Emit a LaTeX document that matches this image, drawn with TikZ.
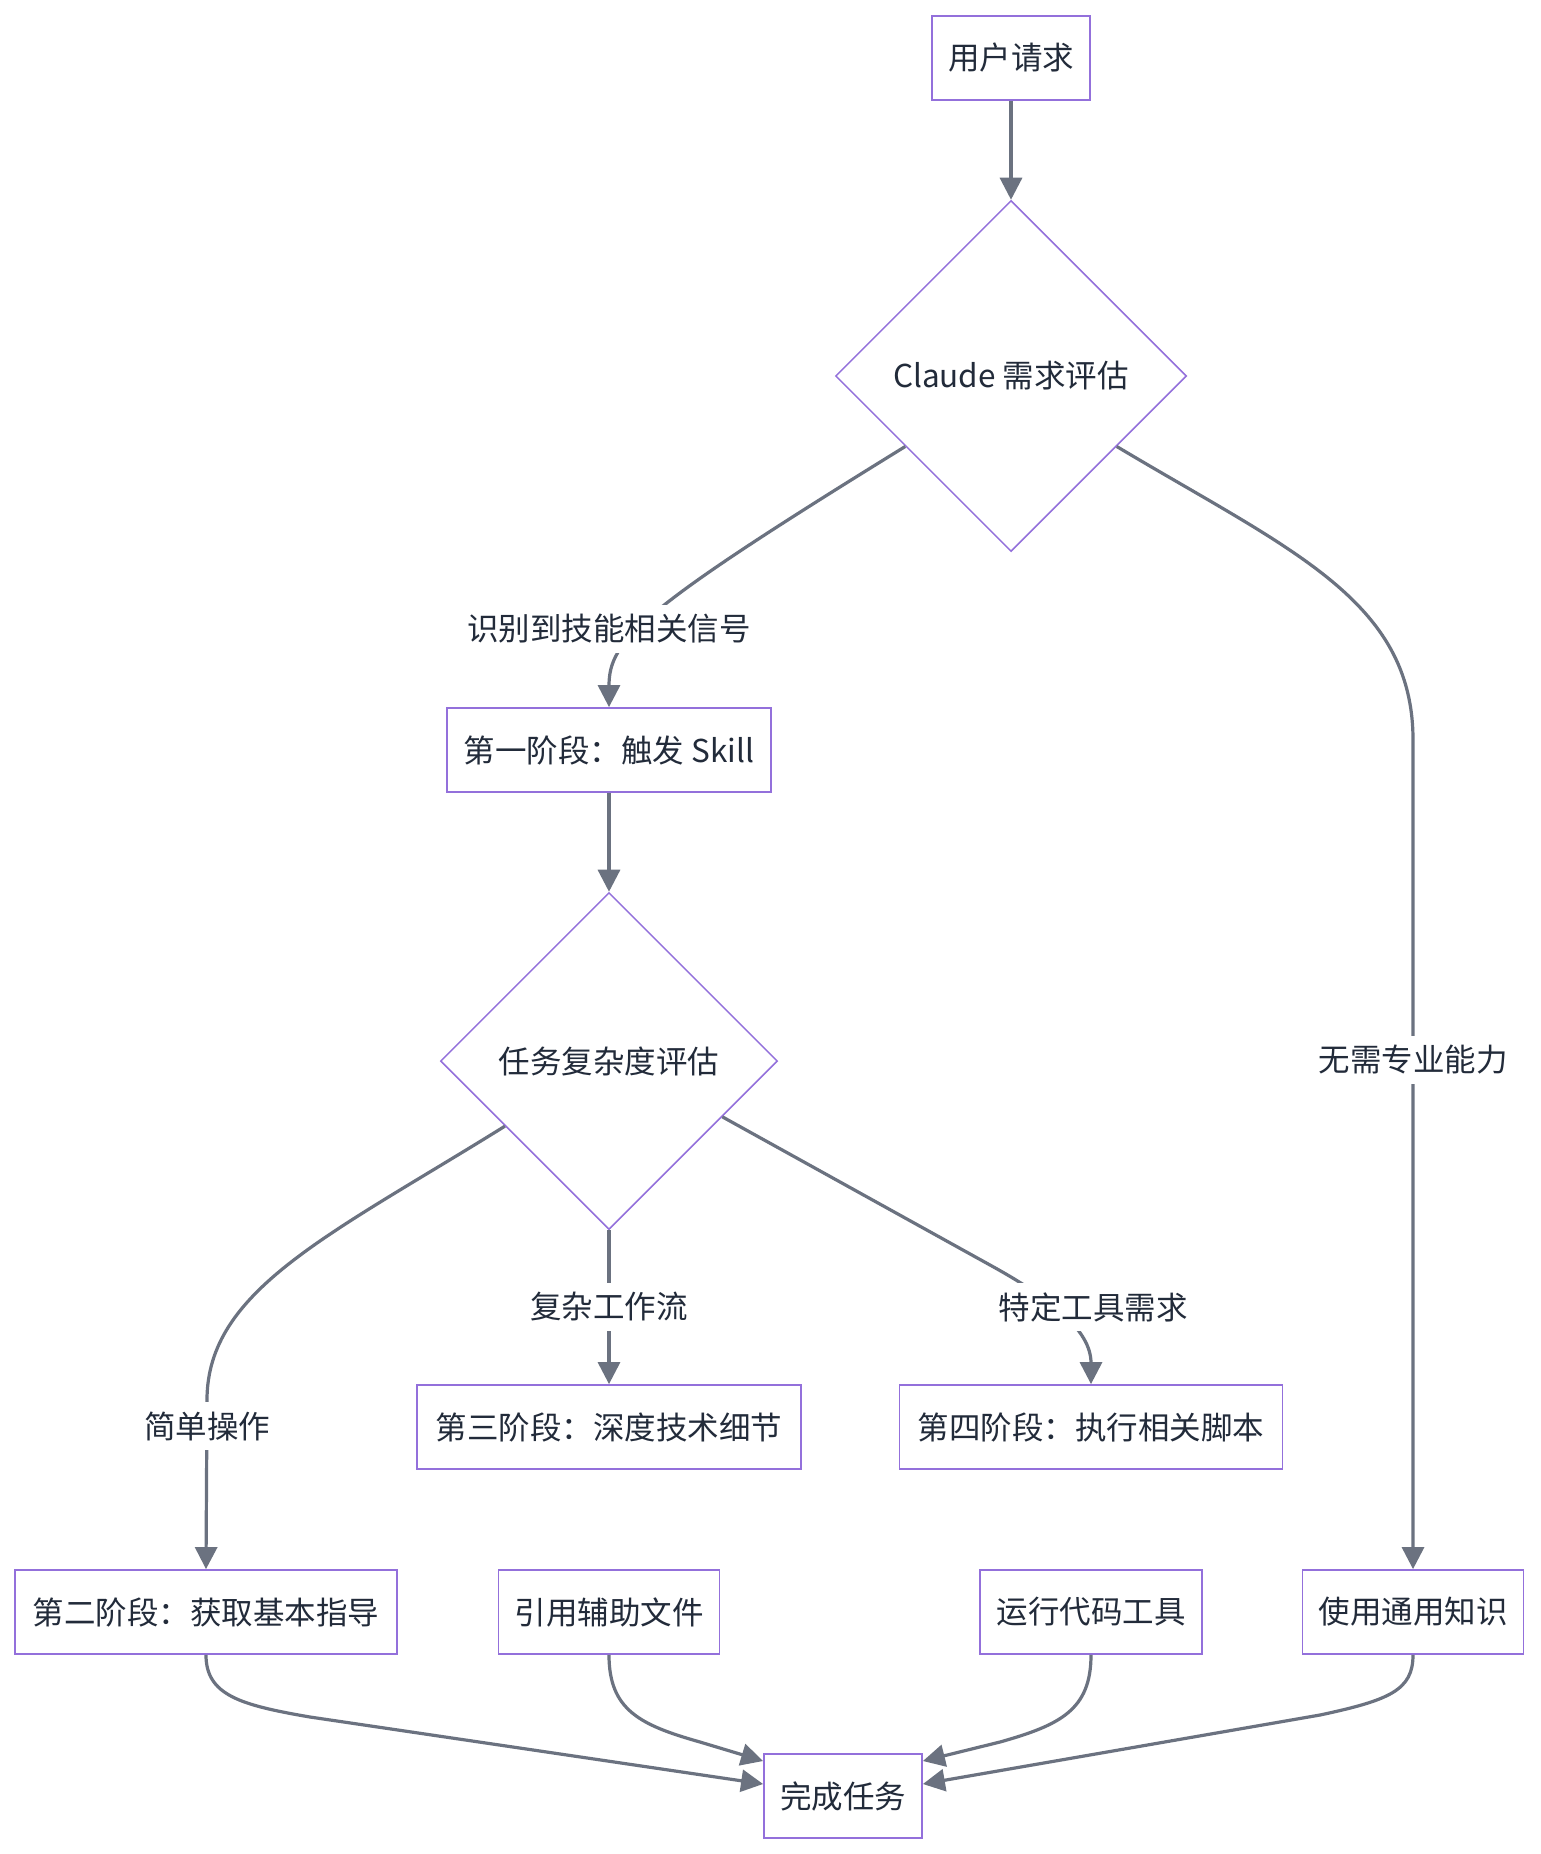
\documentclass[tikz,border=0pt]{standalone}
\usepackage{fontspec}
\setmainfont{Noto Sans CJK SC}
\usetikzlibrary{arrows.meta,shapes.geometric,calc}
\definecolor{nodeborder}{HTML}{9370DB}
\definecolor{edgecol}{RGB}{107,114,128}
\definecolor{txt}{RGB}{34,43,58}
\begin{document}
\begin{tikzpicture}[x=1pt,y=-1pt,
  every node/.style={text=txt, font=\fontsize{31.5}{38}\selectfont},
  box/.style={draw=nodeborder, line width=1.8pt, fill=white, minimum height=84pt, inner sep=0pt},
  dia/.style={draw=nodeborder, line width=1.5pt, fill=white, diamond, inner sep=0pt},
  edge/.style={draw=edgecol, line width=3.2pt, -{Triangle[length=22pt,width=22pt]}},
  lab/.style={fill=white, inner xsep=3pt, inner ysep=0pt, minimum height=48pt}]
\fill[white] (0,0) rectangle (1540,1854);
\useasboundingbox (0,0) rectangle (1540,1854);

\node[box, minimum width=158pt] (req) at (1011,58) {用户请求};
\node[dia, minimum width=351pt, minimum height=351pt] (d1) at (1011,376) {Claude 需求评估};
\node[box, minimum width=324pt] (s1) at (609,750) {第一阶段：触发 Skill};
\node[dia, minimum width=337pt, minimum height=337pt] (d2) at (609,1061) {任务复杂度评估};
\node[box, minimum width=384pt] (s3) at (609,1427) {第三阶段：深度技术细节};
\node[box, minimum width=383pt] (s4) at (1091,1427) {第四阶段：执行相关脚本};
\node[box, minimum width=382pt] (s2) at (206,1612) {第二阶段：获取基本指导};
\node[box, minimum width=221pt] (ref) at (609,1612) {引用辅助文件};
\node[box, minimum width=222pt] (run) at (1091,1612) {运行代码工具};
\node[box, minimum width=221pt] (gen) at (1413,1612) {使用通用知识};
\node[box, minimum width=158pt] (done) at (843,1796) {完成任务};

\draw[edge] (req) -- (d1);
\draw[edge] ($(d1.west)!0.4!(d1.south)$) .. controls (640,610) and (609,640) .. (s1.north);
\draw[edge] ($(d1.east)!0.4!(d1.south)$) .. controls (1290,550) and (1413,600) .. (1413,740) -- (gen.north);
\draw[edge] (s1) -- (d2);
\draw[edge] ($(d2.west)!0.385!(d2.south)$) .. controls (330,1235) and (207,1290) .. (207,1400) -- (s2.north);
\draw[edge] (d2.south) -- (s3.north);
\draw[edge] ($(d2.east)!0.33!(d2.south)$) -- (990,1265) .. controls (1050,1298) and (1091,1330) .. (s4.north);
\draw[edge] (s2.south) .. controls (206,1695) and (240,1705) .. (310,1717) -- ($(done.west)+(0,-12)$);
\draw[edge] (ref.south) .. controls (609,1710) and (640,1725) .. (700,1742) -- ($(done.west)+(0,-35)$);
\draw[edge] (run.south) .. controls (1091,1710) and (1060,1725) .. (1000,1742) -- ($(done.east)+(0,-35)$);
\draw[edge] (gen.south) .. controls (1413,1690) and (1390,1700) .. (1320,1715) -- ($(done.east)+(0,-12)$);

\node[lab] (l1) at (609,629) {识别到技能相关信号};
\node[lab] (l2) at (1413,1060) {无需专业能力};
\node[lab] (l3) at (207,1426) {简单操作};
\node[lab] (l4) at (609,1307) {复杂工作流};
\node[lab] (l5) at (1093,1307) {特定工具需求};
\end{tikzpicture}
\end{document}
